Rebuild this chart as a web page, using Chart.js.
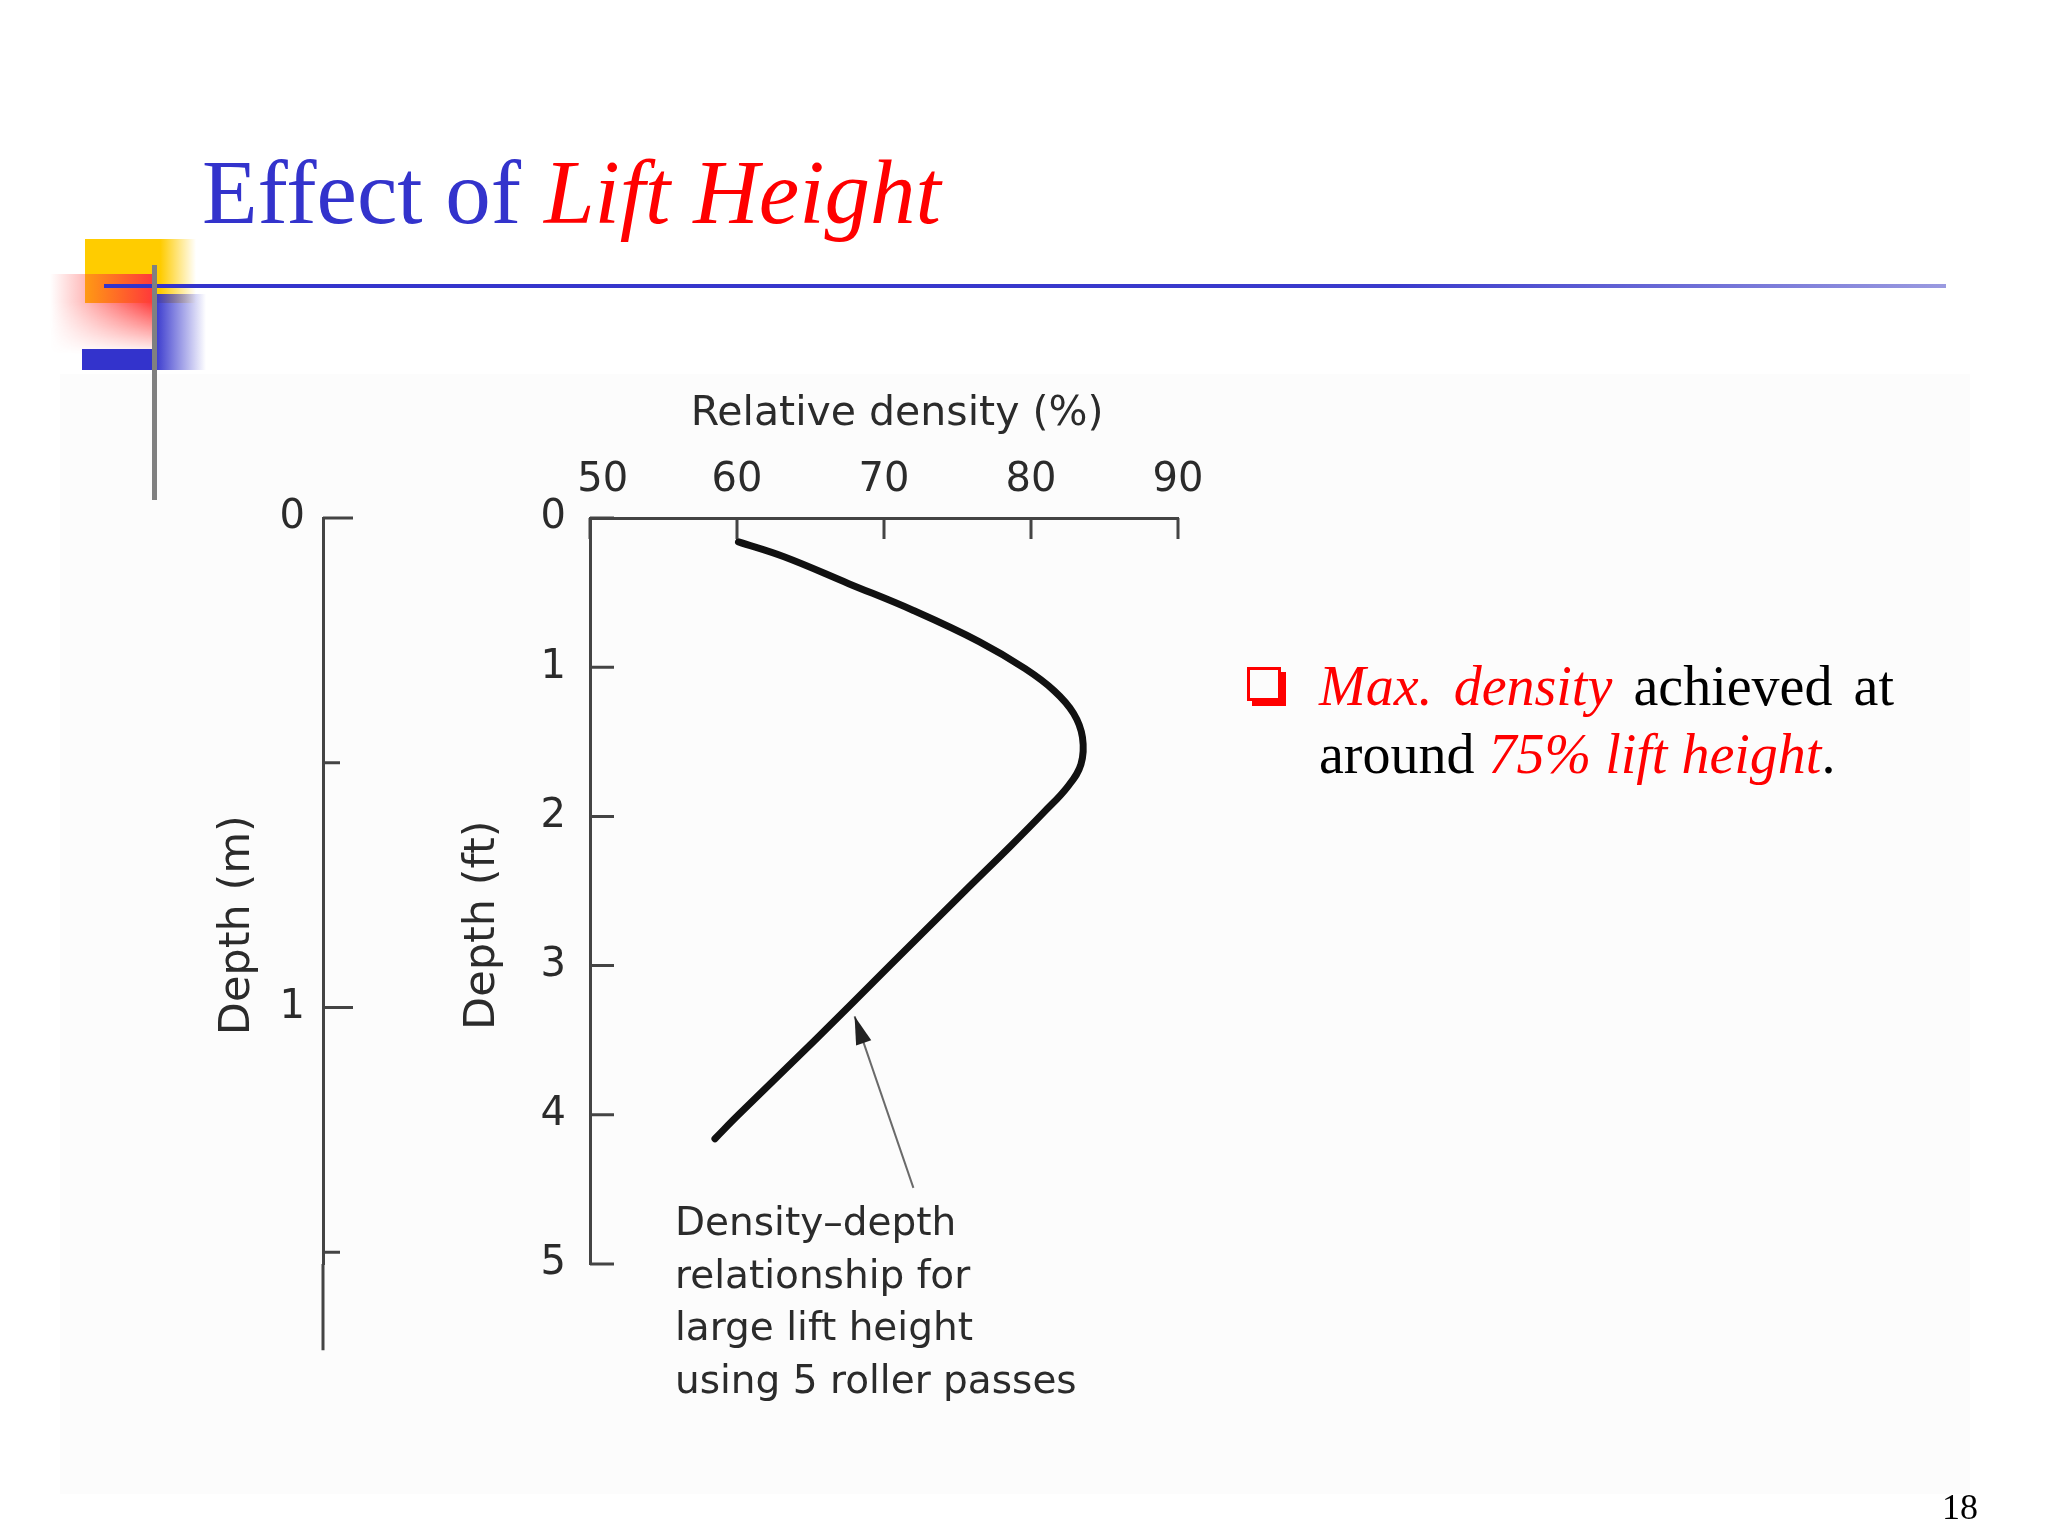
<!DOCTYPE html>
<html>
<head>
<meta charset="utf-8">
<title>Effect of Lift Height</title>
<script src="https://cdn.jsdelivr.net/npm/chart.js@4.4.1/dist/chart.umd.min.js"></script>
<style>
    html, body { margin: 0; padding: 0; background: #fff; }
    #slide { position: relative; width: 2048px; height: 1536px; overflow: hidden; background: #fff;
             font-family: "Liberation Serif", "Times New Roman", serif; }
    .abs { position: absolute; }
    #panel { left: 60px; top: 374px; width: 1910px; height: 1120px; background: #fcfcfc; }
    #yellow { left: 85px; top: 239px; width: 111px; height: 64px;
              background: linear-gradient(to right, #ffcc00 0%, #ffcc00 68%, rgba(255,204,0,0) 100%); }
    #red { left: 50px; top: 274px; width: 102px; height: 80px;
           background: linear-gradient(to right, rgba(255,70,70,0) 0%, #ff3a3a 100%);
           -webkit-mask-image: linear-gradient(to bottom, #000 35%, transparent 100%); }
    #blueBar { left: 82px; top: 349px; width: 72px; height: 21px; background: #3333cc; }
    #blueFade { left: 154px; top: 294px; width: 52px; height: 76px;
                background: linear-gradient(to right, #3333cc 0%, rgba(51,51,204,0) 100%); }
    #rule { left: 104px; top: 284px; width: 1842px; height: 4px;
            background: linear-gradient(to right, #3333cc 0%, #3a3acc 70%, #9a9ae0 100%); }
    #vline { left: 152px; top: 265px; width: 5px; height: 235px; background: #808080; }
    #title { left: 202px; top: 147px; font-size: 91px; line-height: 91px; color: #3333cc; white-space: nowrap; }
    #title i { color: #ff0000; }
    #chart { left: 0; top: 0; }
    #note { left: 675px; top: 1196px; font-family: "DejaVu Sans", sans-serif; font-size: 39px;
            line-height: 52.5px; color: #2b2b2b; white-space: nowrap; }
    #box { left: 1247px; top: 667px; width: 28px; height: 28px; border: 3px solid #ff0000;
           box-shadow: 5px 5px 0 #ff0000; }
    #bullet { left: 1319px; top: 652px; width: 575px; font-size: 56px; line-height: 68px;
              color: #000; text-align: justify; }
    #bullet i { color: #ff0000; }
    #page { left: 1942px; top: 1489px; font-size: 36px; line-height: 36px; color: #000; }
</style>
</head>
<body>
<div id="slide">
    <div id="panel" class="abs"></div>
    <div id="yellow" class="abs"></div>
    <div id="red" class="abs"></div>
    <div id="blueBar" class="abs"></div>
    <div id="blueFade" class="abs"></div>
    <div id="rule" class="abs"></div>
    <div id="vline" class="abs"></div>
    <div id="title" class="abs">Effect of <i>Lift Height</i></div>
    <canvas id="chart" class="abs" width="2048" height="1536"></canvas>
    <div id="note" class="abs">Density–depth<br>relationship for<br>large lift height<br>using 5 roller passes</div>
    <div id="box" class="abs"></div>
    <div id="bullet" class="abs"><i>Max. density</i> achieved at around <i>75% lift height</i>.</div>
    <div id="page" class="abs">18</div>
</div>

<script>
// 曲线数据：相对密度 (%) 与深度 (ft)
const density = [60.1, 63.2, 67.6, 72.0, 76.5, 79.6, 81.6, 82.9, 83.5, 83.4, 82.5, 80.9, 78.6, 75.5, 70.4, 65.3, 60.1, 58.5];
const depthFt = [0.16, 0.26, 0.44, 0.62, 0.83, 1.01, 1.16, 1.31, 1.47, 1.65, 1.80, 1.97, 2.20, 2.50, 3.00, 3.50, 4.00, 4.16];

// 指示箭头（尾 -> 尖）
const arrowDensity = [72.0, 68.0];
const arrowDepth = [4.49, 3.34];

// 刻度
const densityTicks = [50, 60, 70, 80, 90];
const depthFtTicks = [0, 1, 2, 3, 4, 5];
const depthMTicks = [0, 0.5, 1, 1.5];
const depthMLabels = ['0', '', '1', ''];
const FT_PER_M = 3.2808;
const mAxisEnd = 1.7;

const AXIS_COLOR = '#444';
const TEXT_COLOR = '#2b2b2b';
const chartFont = { family: 'DejaVu Sans', size: 40 };
const titleFont = { family: 'DejaVu Sans', size: 43 };

const innerTicks = {
    id: 'innerTicks',
    afterDatasetsDraw(chart) {
        const { ctx, scales: { x, y, ym } } = chart;
        ctx.save();
        ctx.strokeStyle = AXIS_COLOR;
        ctx.lineWidth = 3;
        ctx.beginPath();
        densityTicks.forEach(v => {
            const px = x.getPixelForValue(v);
            ctx.moveTo(px, x.bottom);
            ctx.lineTo(px, x.bottom + 21);
        });
        depthFtTicks.forEach(v => {
            const py = y.getPixelForValue(v);
            ctx.moveTo(y.right, py);
            ctx.lineTo(y.right + 24, py);
        });
        depthMTicks.forEach(v => {
            const py = ym.getPixelForValue(v);
            ctx.moveTo(ym.right, py);
            ctx.lineTo(ym.right + (Number.isInteger(v) ? 30 : 17), py);
        });
        // 米制轴比英尺轴更长
        ctx.moveTo(ym.right, ym.bottom);
        ctx.lineTo(ym.right, ym.getPixelForValue(mAxisEnd));
        ctx.stroke();

        // 箭头
        const tx = x.getPixelForValue(arrowDensity[1]), ty = y.getPixelForValue(arrowDepth[1]);
        const sx = x.getPixelForValue(arrowDensity[0]), sy = y.getPixelForValue(arrowDepth[0]);
        const a = Math.atan2(ty - sy, tx - sx);
        ctx.fillStyle = '#222';
        ctx.beginPath();
        ctx.moveTo(tx, ty);
        ctx.lineTo(tx - 28 * Math.cos(a) + 8 * Math.sin(a), ty - 28 * Math.sin(a) - 8 * Math.cos(a));
        ctx.lineTo(tx - 28 * Math.cos(a) - 8 * Math.sin(a), ty - 28 * Math.sin(a) + 8 * Math.cos(a));
        ctx.closePath();
        ctx.fill();
        ctx.restore();
    }
};

function renderChart() {
    const ctx = document.getElementById('chart').getContext('2d');
    new Chart(ctx, {
        type: 'scatter',
        data: {
            datasets: [{
                data: density.map((d, i) => ({ x: d, y: depthFt[i] })),
                showLine: true,
                borderColor: '#111',
                borderWidth: 7,
                borderCapStyle: 'round',
                tension: 0.4,
                pointRadius: 0
            }, {
                data: arrowDensity.map((d, i) => ({ x: d, y: arrowDepth[i] })),
                showLine: true,
                borderColor: '#6a6a6a',
                borderWidth: 2,
                tension: 0,
                pointRadius: 0
            }]
        },
        options: {
            responsive: false,
            devicePixelRatio: 1,
            animation: false,
            events: [],
            layout: { padding: { left: 180, top: 378, right: 870, bottom: 272 } },
            plugins: { legend: { display: false }, tooltip: { enabled: false } },
            scales: {
                x: {
                    type: 'linear',
                    position: 'top',
                    min: 50,
                    max: 90,
                    afterBuildTicks: s => { s.ticks = densityTicks.map(v => ({ value: v })); },
                    afterFit: s => { s.height = 140; },
                    grid: { display: false, drawTicks: false },
                    border: { display: true, color: AXIS_COLOR, width: 3 },
                    // 原图中 "50" 略向右偏，避开纵轴的 "0"
                    ticks: { color: TEXT_COLOR, font: chartFont, padding: 13, maxRotation: 0,
                             callback: v => (v === densityTicks[0] ? '\u2007' + v : String(v)) },
                    title: { display: true, text: '  Relative density (%)', color: TEXT_COLOR,
                             font: { family: 'DejaVu Sans', size: 41 }, padding: { top: 12, bottom: 0 } }
                },
                y: {
                    type: 'linear',
                    position: 'left',
                    weight: 0,
                    reverse: true,
                    min: 0,
                    max: 5,
                    afterBuildTicks: s => { s.ticks = depthFtTicks.map(v => ({ value: v })); },
                    afterFit: s => { s.width = 267; },
                    grid: { display: false, drawTicks: false },
                    border: { display: true, color: AXIS_COLOR, width: 3 },
                    ticks: { color: TEXT_COLOR, font: chartFont, padding: 24 },
                    // 末尾空格让竖排标题略微下移，与原图一致
                    title: { display: true, text: 'Depth (ft)     ', color: TEXT_COLOR,
                             font: titleFont, padding: { top: 134, bottom: 0 } }
                },
                ym: {
                    type: 'linear',
                    axis: 'y',
                    position: 'left',
                    weight: 1,
                    reverse: true,
                    min: 0,
                    max: 5 / FT_PER_M,
                    afterBuildTicks: s => { s.ticks = depthMTicks.map(v => ({ value: v })); },
                    afterFit: s => { s.width = 143; },
                    grid: { display: false, drawTicks: false },
                    border: { display: true, color: AXIS_COLOR, width: 3 },
                    ticks: { color: TEXT_COLOR, font: chartFont, padding: 18,
                             callback: (v, i) => depthMLabels[i] },
                    title: { display: true, text: 'Depth (m)     ', color: TEXT_COLOR,
                             font: titleFont, padding: { top: 32, bottom: 0 } }
                }
            }
        },
        plugins: [innerTicks]
    });
}

document.addEventListener('DOMContentLoaded', renderChart);
</script>
</body>
</html>
